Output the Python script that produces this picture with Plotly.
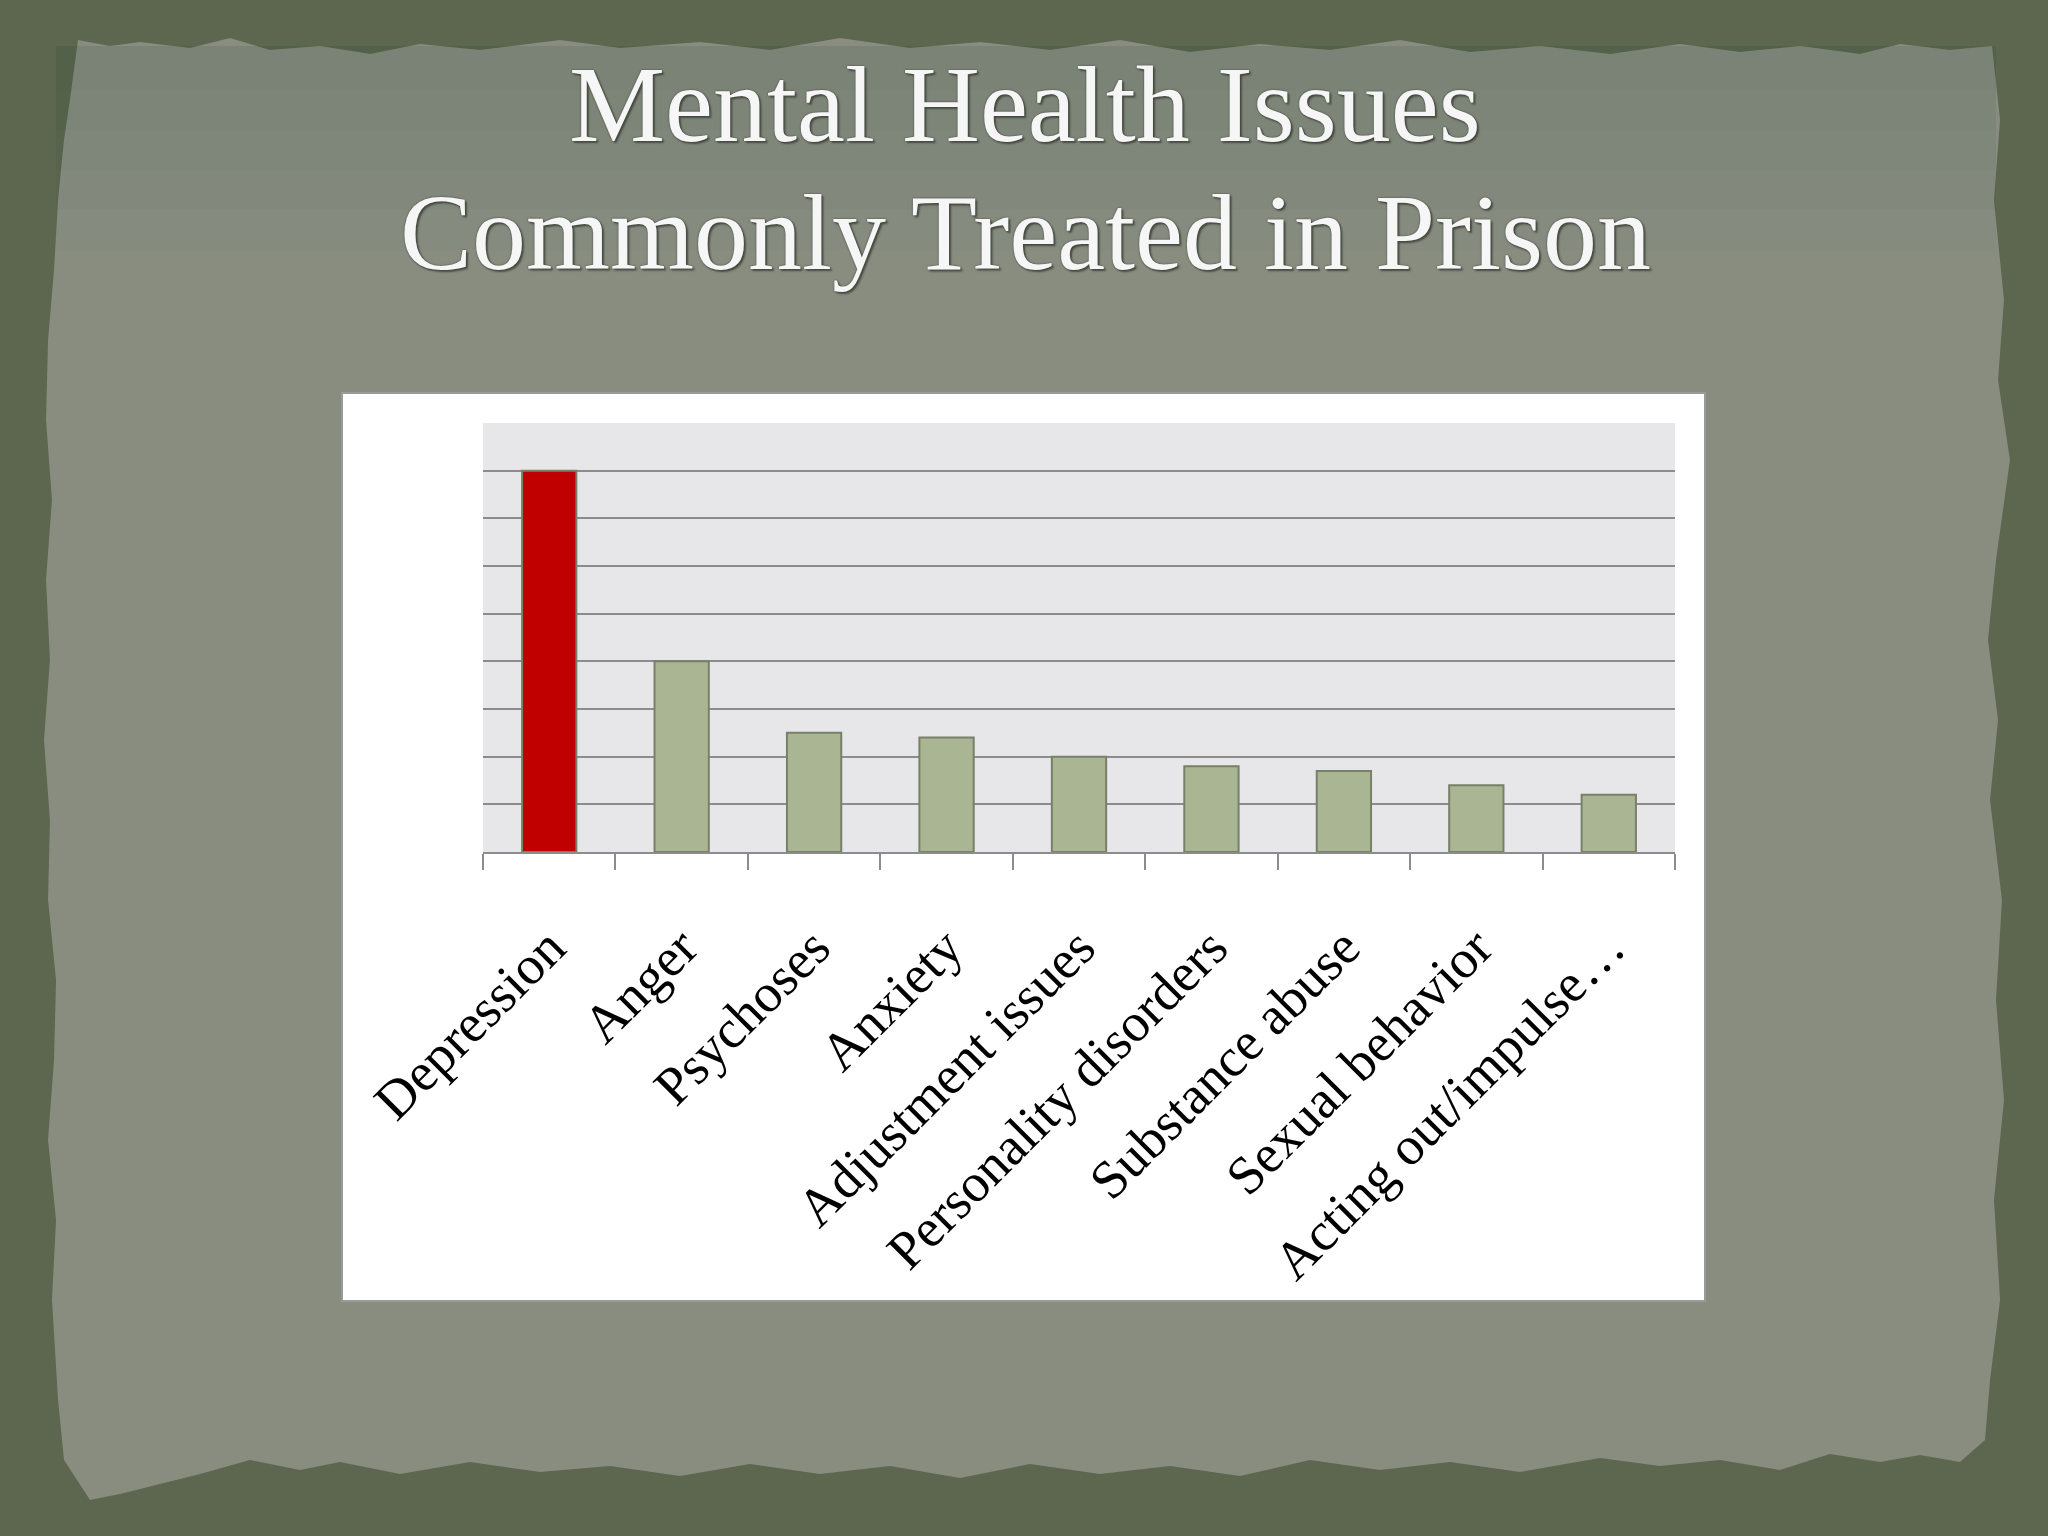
import plotly.graph_objects as go

categories = ["Depression", "Anger", "Psychoses", "Anxiety", "Adjustment issues",
              "Personality disorders", "Substance abuse", "Sexual behavior",
              "Acting out/impulse…"]
values = [40, 20, 12.5, 12, 10, 9, 8.5, 7, 6]
bar_colors = ["#C00000"] + ["#AAB593"] * 8

W, H = 2048, 1536
PL, PR, PT, PB = 483, 1675, 423, 852


def px(X):
    return (X - PL) / (PR - PL)


def py(Y):
    return (PB - Y) / (PB - PT)


def path_from(points):
    return "M " + " L ".join(f"{px(x):.4f},{py(y):.4f}" for x, y in points) + " Z"


# torn-paper outline of the lighter sheet (decorative background)
paper_outline = [
    (78, 40), (110, 46), (140, 42), (190, 48), (230, 38), (270, 50), (320, 46),
    (370, 54), (420, 44), (480, 50), (560, 40), (620, 48), (700, 42),
    (770, 50), (840, 38), (910, 48), (980, 42), (1050, 50), (1120, 40),
    (1190, 52), (1260, 44), (1330, 50), (1400, 40), (1470, 52), (1540, 46),
    (1610, 54), (1680, 44), (1740, 52), (1800, 46), (1860, 54), (1900, 44),
    (1950, 50), (1992, 46),
    (2000, 120), (1994, 200), (2004, 300), (1998, 380), (2010, 460),
    (1996, 560), (1988, 640), (1998, 720), (1990, 800), (2002, 900),
    (1996, 1000), (2004, 1100), (1994, 1200), (2000, 1300), (1990, 1380),
    (1985, 1440), (1960, 1462), (1920, 1455), (1880, 1462), (1830, 1454),
    (1780, 1470), (1720, 1460), (1660, 1466), (1600, 1458), (1520, 1472),
    (1450, 1462), (1380, 1470), (1310, 1460), (1240, 1476), (1170, 1466),
    (1100, 1474), (1030, 1464), (960, 1478), (890, 1466), (820, 1474),
    (750, 1464), (680, 1476), (610, 1466), (540, 1472), (470, 1462),
    (400, 1474), (340, 1462), (300, 1470), (250, 1460), (200, 1474),
    (160, 1484), (120, 1494), (90, 1500), (64, 1460), (58, 1400),
    (52, 1300), (56, 1220), (48, 1140), (54, 1060), (56, 980), (48, 900),
    (50, 820), (44, 740), (50, 660), (46, 580), (52, 500), (46, 420),
    (48, 340), (54, 270), (58, 200), (64, 140), (70, 100),
]

fig = go.Figure()
fig.add_trace(go.Bar(
    x=categories, y=values,
    marker=dict(color=bar_colors, line=dict(color="#78806A", width=2)),
    hoverinfo="x+y",
))

shapes = [
    dict(type="path", xref="paper", yref="paper", layer="below",
         path=path_from(paper_outline), fillcolor="#888D80", line=dict(width=0)),
]
# soft darker shading near the top of the sheet
for y_end in (90, 130, 170, 210, 250):
    shapes.append(dict(type="rect", xref="paper", yref="paper", layer="below",
                       x0=px(56), x1=px(1996), y0=py(46), y1=py(y_end),
                       fillcolor="rgba(60,68,50,0.025)", line=dict(width=0)))
shapes += [
    # white chart box
    dict(type="rect", xref="paper", yref="paper", layer="below",
         x0=px(342), x1=px(1705), y0=py(393), y1=py(1301),
         fillcolor="#FFFFFF", line=dict(color="#9A9A9A", width=2)),
    # plot area
    dict(type="rect", xref="paper", yref="paper", layer="below",
         x0=0, x1=1, y0=0, y1=1,
         fillcolor="#E7E7E9", line=dict(width=0)),
]

title_font = dict(family="Liberation Serif, serif", size=108, color="#F6F6F6",
                  shadow="0px 0px 2px #3a3d35, 2px 2px 2px #4a4f44")
annotations = [
    dict(text="Mental Health Issues", xref="paper", yref="paper",
         x=px(1025), y=py(104), xanchor="center", yanchor="middle",
         showarrow=False, font=title_font),
    dict(text="Commonly Treated in Prison", xref="paper", yref="paper",
         x=px(1025), y=py(232), xanchor="center", yanchor="middle",
         showarrow=False, font=title_font),
]

fig.update_layout(
    width=W, height=H,
    margin=dict(l=PL, r=W - PR, t=PT, b=H - PB, autoexpand=False),
    paper_bgcolor="#5D664F",
    plot_bgcolor="rgba(0,0,0,0)",
    bargap=0.59,
    showlegend=False,
    shapes=shapes,
    annotations=annotations,
    xaxis=dict(
        showgrid=False, showline=True, linecolor="#8C8C8C", linewidth=2,
        ticks="outside", tickson="boundaries", ticklen=16, tickwidth=2,
        tickcolor="#8C8C8C", tickangle=-45, ticklabelstandoff=40,
        tickfont=dict(family="Liberation Serif, serif", size=54, color="#000000"),
        automargin=False, fixedrange=True,
    ),
    yaxis=dict(
        range=[0, 45], dtick=5, showticklabels=False, showgrid=True,
        gridcolor="#8C8C8C", gridwidth=2, zeroline=False, showline=False,
        automargin=False, fixedrange=True,
    ),
)

fig.write_html("out.html", config={"displayModeBar": False},
               post_script="document.body.style.margin='0';document.body.style.background='#5D664F';")
